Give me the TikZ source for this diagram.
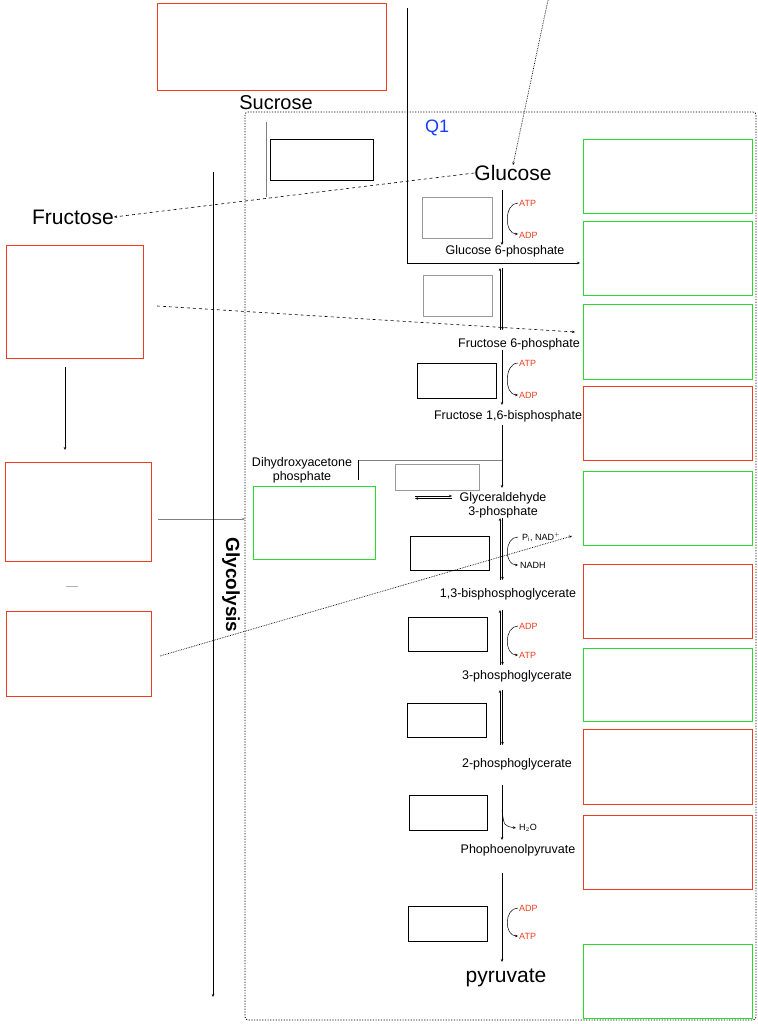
\documentclass[tikz,border=0pt]{standalone}
\usepackage{fontspec}
\setmainfont{Liberation Sans}
\usetikzlibrary{arrows.meta}
\definecolor{gr}{RGB}{40,220,40}
\definecolor{rd}{RGB}{240,60,30}
\definecolor{q}{RGB}{20,60,255}
\tikzset{
  x=1pt,y=-1pt,
  lbl/.style={inner sep=0pt,font=\fontsize{12.5}{14}\selectfont,align=center},
  big/.style={inner sep=0pt,font=\fontsize{21}{24}\selectfont},
  co/.style={inner sep=0pt,font=\fontsize{9}{10}\selectfont,anchor=west},
  redco/.style={co,text=rd},
  ebox/.style={draw=black,line width=0.6pt},
  gbox/.style={draw=gray!80,line width=0.6pt},
  rbox/.style={draw=rd,line width=0.6pt},
  grbox/.style={draw=gr,line width=0.6pt},
  arr/.style={-{Stealth[length=3pt,width=2.5pt]},line width=0.6pt},
  curv/.style={-{Stealth[length=3pt,width=2.5pt]},line width=0.5pt},
}
\newcommand\cofarc[3]{% x, ytop, ybot
  \draw[curv] (#1+14,#2) .. controls (#1,#2) and (#1,#3) .. (#1+14,#3);}
\begin{document}
\begin{tikzpicture}
\useasboundingbox (0,0) rectangle (757,1024);
% boxes
\draw[rbox] (157,3) rectangle (386,90);
\node[big,font=\fontsize{20}{22}\selectfont] (suc) at (276,103) {Sucrose};
\draw[dash pattern=on 1.2pt off 1.5pt,rounded corners=3pt,line width=0.8pt] (245,112) rectangle (756,1020);
\node[big,text=q,font=\fontsize{18}{20}\selectfont] (q1) at (437,128) {Q1};
\draw[ebox] (270,139) rectangle (373,180);
\draw[gray,line width=0.5pt] (266,122) -- (266,197);
\node[big] (glc) at (513,173) {Glucose};
\node[big] (fru) at (73,217) {Fructose};
\coordinate (topdot) at (548,0);
\draw[densely dotted,arr,line width=0.7pt] (topdot) -- (glc.north);
\draw[dashed,arr] (glc.west) -- (fru.east);
\coordinate (lt) at (407,8); \coordinate (lb) at (407,263); \coordinate (le) at (580,263);
\draw[arr] (lt) -- (lb) -- (le);
% left boxes
\draw[rbox] (6,245) rectangle (143,358);
\coordinate (a1) at (65,367); \coordinate (a2) at (65,450);
\draw[arr] (a1) -- (a2);
\draw[rbox] (5,462) rectangle (151,561);
\draw[gray!60] (66,586) -- (78,586);
\draw[rbox] (6,611) rectangle (151,696);
\coordinate (d1) at (157,306); \coordinate (d2) at (575,332);
\draw[dashed,arr] (d1) -- (d2);
\coordinate (g1) at (158,519); \coordinate (g2) at (245,519);
\draw[gray,arr] (g1) -- (g2);
\coordinate (e1) at (160,656); \coordinate (e2) at (572,536);
\draw[densely dotted,arr,line width=0.7pt] (e1) -- (e2);
% glycolysis
\coordinate (gy1) at (213,172); \coordinate (gy2) at (213,997);
\draw[arr,line width=0.8pt] (gy1) -- (gy2);
\node[rotate=-90,font=\bfseries\fontsize{19}{21}\selectfont] (glyc) at (231,585) {Glycolysis};
% right boxes
\foreach \t/\b/\c in {139/213/gr,221/295/gr,304/379/gr,386/460/rd,471/545/gr,564/638/rd,648/721/gr,729/804/rd,815/889/rd,944/1018/gr}
  \draw[draw=\c,line width=0.6pt] (583,\t) rectangle (752,\b);
% pathway
\node[lbl] (g6p) at (505,251) {Glucose 6-phosphate};
\draw[arr] (502,190) -- (502,245);
\cofarc{504}{203}{234}
\node[redco] at (519,203) {ATP}; \node[redco] at (519,235) {ADP};
\draw[gbox] (422,197) rectangle (492,238);
\node[lbl] (f6p) at (519,344) {Fructose 6-phosphate};
\draw[arr] (500,330) -- (500,268); \draw[arr] (502.5,268) -- (502.5,330);
\draw[gbox] (423,275) rectangle (492,316);
\node[lbl] (fbp) at (508,416) {Fructose 1,6-bisphosphate};
\draw[arr] (502,350) -- (502,405);
\cofarc{504}{363}{395}
\node[redco] at (519,363) {ATP}; \node[redco] at (519,395) {ADP};
\draw[ebox] (417,363) rectangle (496,398);
\node[lbl] (dhap) at (302,470) {Dihydroxyacetone\\phosphate};
\draw[grbox] (253,486) rectangle (375,559);
\node[lbl] (g3p) at (503,505) {Glyceraldehyde\\3-phosphate};
\draw[arr] (502,425) -- (502,488);
\draw[gray,line width=0.6pt] (502,460) -- (358,460);
\draw[line width=0.6pt] (358,460) -- (358,480);
\draw[gbox] (395,464) rectangle (479,490);
\draw[line width=0.6pt,-{Stealth[length=3pt,width=2.5pt]}] (415,496) -- (452,496);
\draw[line width=0.6pt,{Stealth[length=3pt,width=2.5pt]}-] (415,498.5) -- (452,498.5);
\node[lbl] (bpg) at (508,594) {1,3-bisphosphoglycerate};
\draw[arr] (500,580) -- (500,518); \draw[arr] (502.5,518) -- (502.5,580);
\cofarc{504}{537}{565}
\node[co] at (522,537) {P$_\mathrm{i}$, NAD$^+$}; \node[co] at (520,565) {NADH};
\draw[ebox] (410,536) rectangle (489,570);
\node[lbl] (pg3) at (517,676) {3-phosphoglycerate};
\draw[arr] (500,665) -- (500,610); \draw[arr] (502.5,610) -- (502.5,665);
\cofarc{504}{626}{655}
\node[redco] at (519,626) {ADP}; \node[redco] at (519,655) {ATP};
\draw[ebox] (408,617) rectangle (487,651);
\node[lbl] (pg2) at (517,764) {2-phosphoglycerate};
\draw[arr] (500,745) -- (500,690); \draw[arr] (502.5,690) -- (502.5,745);
\draw[ebox] (407,703) rectangle (486,737);
\node[lbl] (pep) at (518,850) {Phophoenolpyruvate};
\draw[arr] (502,785) -- (502,840);
\draw[curv] (502,810) .. controls (504,826) .. (516,828);
\node[co] at (519,828) {H$_2$O};
\draw[ebox] (409,795) rectangle (487,830);
\node[big] (pyr) at (506,978) {pyruvate};
\draw[arr] (502,873) -- (502,962);
\cofarc{504}{908}{936}
\node[redco] at (519,908) {ADP}; \node[redco] at (519,936) {ATP};
\draw[ebox] (408,906) rectangle (487,941);
\end{tikzpicture}
\end{document}
